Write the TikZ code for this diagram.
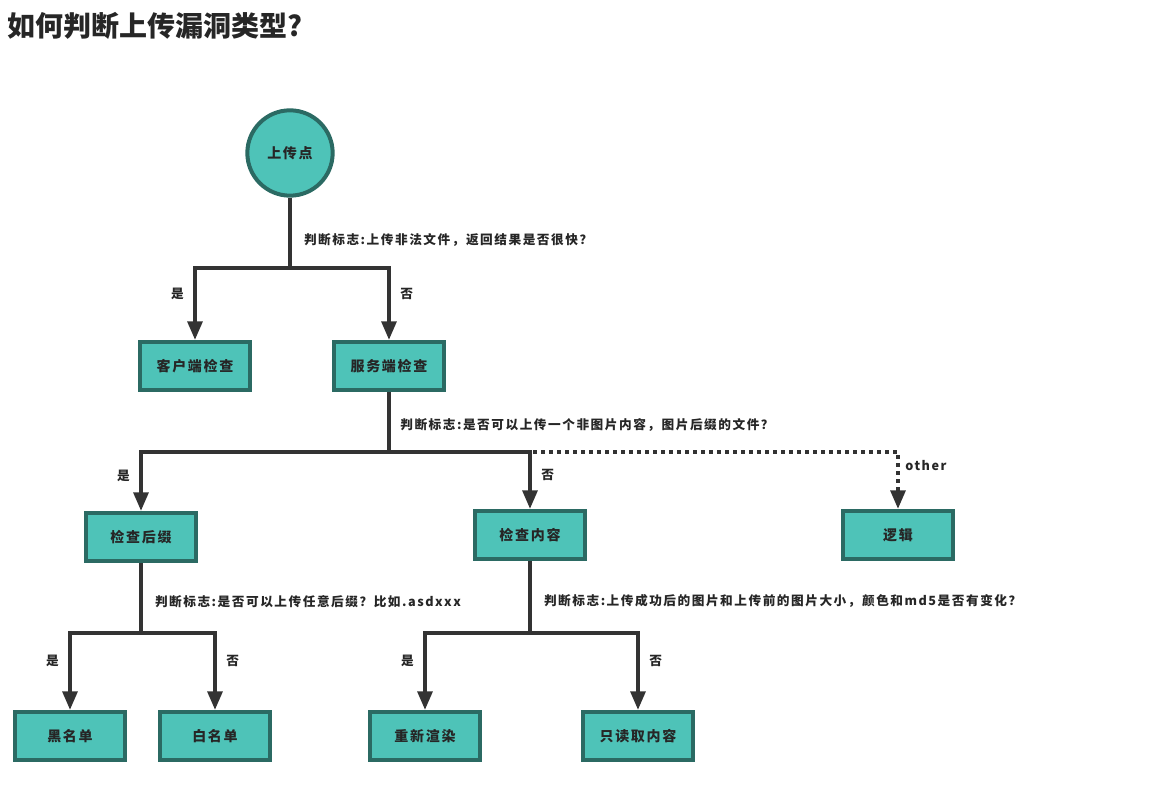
\documentclass[tikz,border=0pt]{standalone}
\usepackage{fontspec}
\setmainfont{Noto Sans CJK SC}
\newfontfamily\spaced[LetterSpace=12]{Noto Sans CJK SC}
\usetikzlibrary{arrows.meta,positioning}

\definecolor{boxfill}{HTML}{4EC3B8}
\definecolor{boxline}{HTML}{2B6A63}
\definecolor{wire}{HTML}{333333}

\begin{document}
\begin{tikzpicture}[x=0.75pt,y=-0.75pt,
		>={Triangle[length=14pt,width=11pt]},
		box/.style = {draw=boxline, line width=3pt, fill=boxfill, minimum width=82pt, minimum height=36pt, font=\spaced\bfseries\fontsize{10.5}{12}\selectfont, text=black!85},
		pt/.style = {circle, draw=boxline, line width=3pt, fill=boxfill, minimum size=64pt, font=\spaced\bfseries\fontsize{10.5}{12}\selectfont, text=black!85},
		wire/.style = {draw=wire, line width=3pt},
		el/.style = {font=\spaced\bfseries\fontsize{9.5}{11}\selectfont, text=black!85, inner sep=1pt}
		]
		\useasboundingbox (0,0) rectangle (1158,788);
		\node[anchor=west, font=\bfseries\fontsize{21}{24}\selectfont, text=black!85] (title) at (3,26) {如何判断上传漏洞类型?};
		
		%level 0 and 1
		\node (up) [pt] at (290,153) {上传点};
		\node (client) [box] at (195,366) {客户端检查};
		\node (server) [box] at (389,366) {服务端检查};
		
		%level 2
		\node (suffix) [box] at (141,537) {检查后缀};
		\node (content) [box] at (530,535) {检查内容};
		\node (logic) [box] at (898,535) {逻辑};
		
		%level 3
		\node (black) [box] at (70,736) {黑名单};
		\node (white) [box] at (215,736) {白名单};
		\node (render) [box] at (425,736) {重新渲染};
		\node (read) [box] at (638,736) {只读取内容};
		
		\coordinate (j0) at (290,268);
		\coordinate (j1) at (389,452);
		\coordinate (j2) at (141,633);
		\coordinate (j3) at (530,633);
		
		%from the upload point
		\draw[wire] (up) -- node[el, right=8pt, pos=0.6] {判断标志:上传非法文件，返回结果是否很快？} (j0);
		\draw[wire,->] (j0) -| node[el, left=6pt, pos=0.68] {是} (client);
		\draw[wire,->] (j0) -| node[el, right=6pt, pos=0.68] {否} (server);
		
		%from the server check
		\draw[wire] (server) -- node[el, right=6pt, pos=0.55] {判断标志:是否可以上传一个非图片内容，图片后缀的文件？} (j1);
		\draw[wire,->] (j1) -| node[el, left=6pt, pos=0.7] {是} (suffix);
		\draw[wire,->] (j1) -| node[el, right=6pt, pos=0.7] {否} (content);
		\draw[wire,->, dash pattern=on 3pt off 3pt] (j1) -| node[el, right=3pt, pos=0.62] {other} (logic);
		
		%from the suffix check
		\draw[wire] (suffix) -- node[el, right=8pt, pos=0.55] {判断标志:是否可以上传任意后缀？比如.asdxxx} (j2);
		\draw[wire,->] (j2) -| node[el, left=6pt, pos=0.68] {是} (black);
		\draw[wire,->] (j2) -| node[el, right=6pt, pos=0.68] {否} (white);
		
		%from the content check
		\draw[wire] (content) -- node[el, right=8pt, pos=0.55] {判断标志:上传成功后的图片和上传前的图片大小，颜色和md5是否有变化？} (j3);
		\draw[wire,->] (j3) -| node[el, left=6pt, pos=0.68] {是} (render);
		\draw[wire,->] (j3) -| node[el, right=6pt, pos=0.68] {否} (read);
\end{tikzpicture}
\end{document}
